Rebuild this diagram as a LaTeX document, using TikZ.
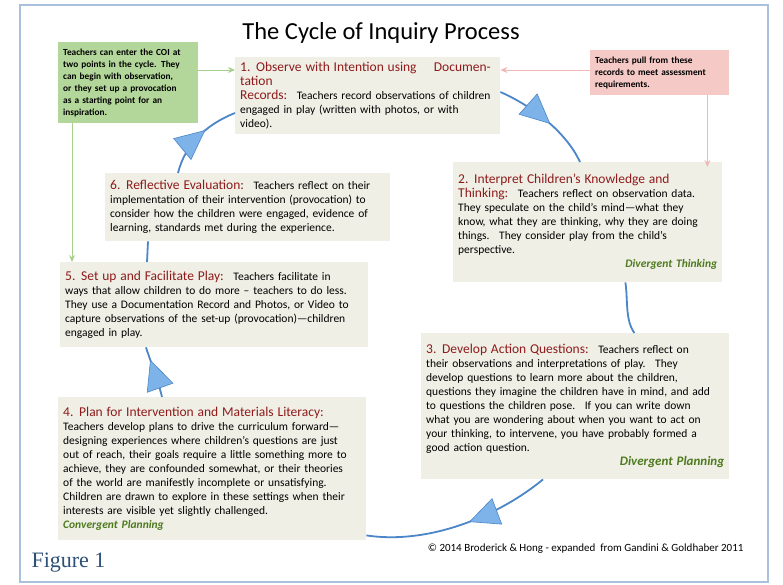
\documentclass[tikz,border=0pt]{standalone}
\usepackage{fontspec}
\setmainfont{Carlito}
\newfontfamily\figfont{Liberation Serif}
\usetikzlibrary{arrows.meta,decorations.markings}
\definecolor{boxbg}{HTML}{EFEFE6}
\definecolor{grn}{HTML}{B3D79A}
\definecolor{pnk}{HTML}{F4C9C6}
\definecolor{ttl}{HTML}{8E1B1B}
\definecolor{dg}{HTML}{4E7A1E}
\definecolor{cyc}{HTML}{4A86C8}
\definecolor{cycf}{HTML}{7DB3E8}
\definecolor{frm}{HTML}{A9C1DC}
\definecolor{garr}{HTML}{A8D08D}
\definecolor{parr}{HTML}{F0B8B8}
\newcommand{\tl}[1]{\textcolor{ttl}{\fontsize{13.5}{14}\selectfont #1}}
\newcommand{\dv}[1]{\textcolor{dg}{\bfseries\itshape #1}}
\tikzset{
  x=1pt,y=-1pt,
  cbox/.style={anchor=north west,fill=boxbg,inner sep=5pt,align=left,font=\fontsize{11.5}{14}\selectfont},
  sbox/.style={anchor=north west,inner sep=5pt,align=left,font=\fontsize{9.3}{12}\selectfont\bfseries},
  cycarrow/.style={draw=cyc,line width=1.8pt,postaction={decorate},
    decoration={markings,mark=at position #1 with {\arrow[cyc,fill=cycf,line width=0.6pt]{Triangle[length=30pt,width=28pt,open,fill=cycf]}}}},
  cycline/.style={draw=cyc,line width=1.8pt},
  garrow/.style={draw=garr,line width=1pt,-{Stealth[length=7pt,width=6pt]}},
  parrow/.style={draw=parr,line width=1pt,-{Stealth[length=7pt,width=6pt]}}
}
\begin{document}
\begin{tikzpicture}
\useasboundingbox (0,0) rectangle (783,584);
\fill[white] (0,0) rectangle (783,584);
\draw[frm,line width=1.5pt] (20,5) rectangle (768,582);
\node[font=\fontsize{24.5}{28}\selectfont] (title) at (381,33) {The Cycle of Inquiry Process};

\node[sbox,fill=grn,text width=130pt,minimum height=81pt] (g) at (58,42)
 {Teachers can enter the COI at\\two points in the cycle. They\\can begin with observation,\\or they set up a provocation\\as a starting point for an\\inspiration.};
\node[sbox,fill=pnk,text width=129pt,minimum height=45pt] (p) at (590,50)
 {Teachers pull from these\\records to meet assessment\\requirements.};

\node[cbox,text width=255pt,minimum height=66pt] (b1) at (235,57)
 {\tl{1. Observe with Intention using \quad Documentation}\\\tl{Records:} \ Teachers record observations of children\\engaged in play (written with photos, or with\\video).};
\node[cbox,text width=275pt,minimum height=68pt] (b6) at (105,173)
 {\tl{6. Reflective Evaluation:} \ Teachers reflect on their\\implementation of their intervention (provocation) to\\consider how the children were engaged, evidence of\\learning, standards met during the experience.};
\node[cbox,text width=259pt,minimum height=120pt] (b2) at (453,162)
 {\tl{2. Interpret Children’s Knowledge and}\\\tl{Thinking:} \ Teachers reflect on observation data.\\They speculate on the child’s mind—what they\\know, what they are thinking, why they are doing\\things. \ They consider play from the child’s\\perspective.\\\hfill\dv{Divergent Thinking}};
\node[cbox,text width=298pt,minimum height=85pt] (b5) at (60,262)
 {\tl{5. Set up and Facilitate Play:} \ Teachers facilitate in\\ways that allow children to do more – teachers to do less.\\They use a Documentation Record and Photos, or Video to\\capture observations of the set-up (provocation)—children\\engaged in play.};
\node[cbox,text width=298pt,minimum height=146pt] (b3) at (421,333)
 {\tl{3. Develop Action Questions:} \ Teachers reflect on\\their observations and interpretations of play. \ They\\develop questions to learn more about the children,\\questions they imagine the children have in mind, and add\\to questions the children pose. \ If you can write down\\what you are wondering about when you want to act on\\your thinking, to intervene, you have probably formed a\\good action question.\\\hfill\dv{\fontsize{13}{14}\selectfont Divergent Planning}};
\node[cbox,text width=298pt,minimum height=143pt] (b4) at (58,397)
 {\tl{4. Plan for Intervention and Materials Literacy:}\\Teachers develop plans to drive the curriculum forward—\\designing experiences where children’s questions are just\\out of reach, their goals require a little something more to\\achieve, they are confounded somewhat, or their theories\\of the world are manifestly incomplete or unsatisfying.\\Children are drawn to explore in these settings when their\\interests are visible yet slightly challenged.\\\dv{Convergent Planning}};

\node[anchor=east,font=\fontsize{11}{12}\selectfont] (cp) at (747,549) {© 2014 Broderick \& Hong - expanded \ from Gandini \& Goldhaber 2011};
\node[anchor=west,font=\figfont\fontsize{22}{24}\selectfont,text=cyc!60!black] (fig) at (28,563) {Figure 1};

% green and pink connectors
\draw[garrow] ([yshift=-28pt]g.north east) -- ([yshift=-13pt]b1.north west);
\draw[garrow] ([xshift=14pt]g.south west) -- ([xshift=12pt]b5.north west);
\draw[parrow] ([yshift=-20pt]p.north west) -- ([yshift=-13pt]b1.north east);
\draw[parrow] ([xshift=-22pt]p.south east) -- ([xshift=-15pt,yshift=-5pt]b2.north east);

% cycle arrows
\draw[cycarrow=0.55] ([yshift=-35pt]b1.north east) .. controls (530,105) and (565,130) .. ([xshift=127pt]b2.north west);
\draw[cycline] ([xshift=-97pt]b2.south east) .. controls (628,300) and (625,320) .. ([xshift=-95pt]b3.north east) ;
\draw[cycarrow=0.45] ([xshift=122pt]b3.south west) .. controls (500,515) and (430,545) .. ([yshift=5pt]b4.south east);
\draw[cycarrow=0.75] ([xshift=104pt]b4.north west) .. controls (158,380) and (150,360) .. ([xshift=86pt]b5.south west);
\draw[cycline] ([xshift=87pt]b5.north west) -- ([xshift=43pt]b6.south west);
\draw[cycarrow=0.6] ([xshift=73pt]b6.north west) .. controls (185,145) and (205,125) .. ([yshift=-56pt]b1.north west);
\end{tikzpicture}
\end{document}
